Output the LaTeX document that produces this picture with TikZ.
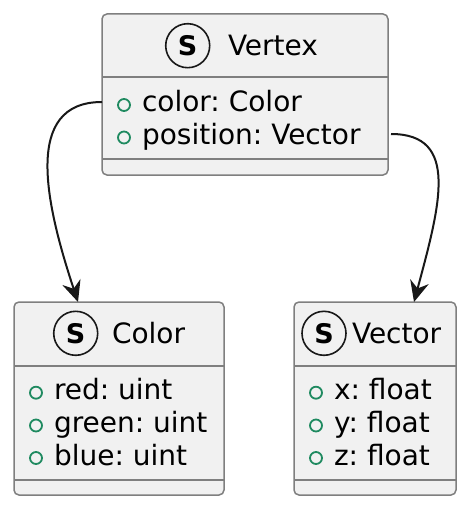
\documentclass[tikz,border=0pt]{standalone}
\usepackage{fontspec}
\setmainfont{DejaVu Sans}
\usetikzlibrary{arrows.meta}
\definecolor{boxline}{HTML}{7F7F7F}
\definecolor{boxfill}{HTML}{F1F1F1}
\definecolor{vis}{HTML}{1F8A60}
\definecolor{ink}{HTML}{181818}
\newcommand{\umlbox}[5]{% name, x1, y1, w, h
  \node[umlbox, minimum width=#4pt, minimum height=#5pt] (#1) at (#2+#4/2,#3+#5/2) {};}
\tikzset{
  umlbox/.style={draw=boxline, fill=boxfill, line width=1.5pt, rounded corners=5pt, inner sep=0pt, outer sep=0pt},
  sepline/.style={draw=boxline, line width=1.5pt},
  txt/.style={anchor=base west, inner sep=0pt, outer sep=0pt, font=\fontsize{28}{30}\selectfont\frenchspacing, text=black},
  spot/.style={circle, draw=ink, line width=1.6pt, fill=boxfill, minimum size=44pt, inner sep=0pt, font=\fontsize{27}{30}\selectfont\bfseries, text=black},
  vismark/.style={circle, draw=vis, line width=1.8pt, minimum size=12pt, inner sep=0pt},
  conn/.style={draw=ink, line width=2pt, -{Stealth[length=21pt,width=19pt,inset=7pt]}}
}
\begin{document}
\begin{tikzpicture}[x=1pt,y=-1pt]
\useasboundingbox (0,0) rectangle (470,508);
% Vertex
\umlbox{vertex}{102}{14}{286}{161}
\draw[sepline] (vertex.west |- 0,77) -- (vertex.east |- 0,77);
\draw[sepline] (vertex.west |- 0,159) -- (vertex.east |- 0,159);
\node[spot] (svertex) at (187.7,45.7) {S};
\node[txt] (tvertex) at (228,56) {Vertex};
\node[vismark] (v1) at (124,105) {};
\node[txt] (tv1) at (142,112) {color: Color};
\node[vismark] (v2) at (124,137.5) {};
\node[txt] (tv2) at (142,144) {position: Vector};
% Color
\umlbox{color}{14}{302}{210}{193}
\draw[sepline] (color.west |- 0,366) -- (color.east |- 0,366);
\draw[sepline] (color.west |- 0,480) -- (color.east |- 0,480);
\node[spot] (scolor) at (75.7,333.3) {S};
\node[txt] (tcolor) at (112,343) {Color};
\node[vismark] (c1) at (36,392.7) {};
\node[txt] (tc1) at (54,399.5) {red: uint};
\node[vismark] (c2) at (36,425.5) {};
\node[txt] (tc2) at (54,432) {green: uint};
\node[vismark] (c3) at (36,458) {};
\node[txt] (tc3) at (54,465) {blue: uint};
% Vector
\umlbox{vector}{294}{302}{162}{193}
\draw[sepline] (vector.west |- 0,366) -- (vector.east |- 0,366);
\draw[sepline] (vector.west |- 0,480) -- (vector.east |- 0,480);
\node[spot] (svector) at (324,333.3) {S};
\node[txt] (tvector) at (352,343) {Vector};
\node[vismark] (d1) at (316,392.7) {};
\node[txt] (td1) at (334,399.5) {x: float};
\node[vismark] (d2) at (316,425.5) {};
\node[txt] (td2) at (334,432) {y: float};
\node[vismark] (d3) at (316,458) {};
\node[txt] (td3) at (334,465) {z: float};
% Connectors
\coordinate (vl) at (vertex.west |- 0,102);
\coordinate (vr) at ([xshift=3pt]vertex.east |- 0,134);
\coordinate (cin) at (78,302);
\coordinate (din) at (414,302);
\draw[conn] (vl) .. controls (22,102) and (46,205) .. (cin);
\draw[conn] (vr) .. controls (460,134) and (440,205) .. (din);
\end{tikzpicture}
\end{document}
